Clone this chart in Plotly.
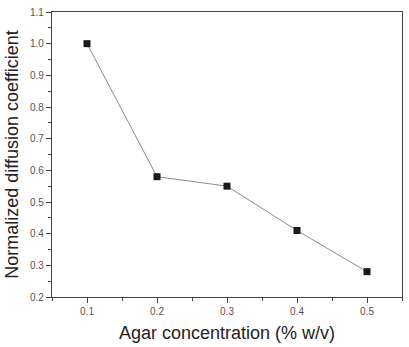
import plotly.graph_objects as go

agar_conc = [0.1, 0.2, 0.3, 0.4, 0.5]
norm_diffusion = [1.0, 0.58, 0.55, 0.41, 0.28]

x_ticks = [0.1, 0.2, 0.3, 0.4, 0.5]
y_ticks = [0.2, 0.3, 0.4, 0.5, 0.6, 0.7, 0.8, 0.9, 1.0, 1.1]

fig = go.Figure()
fig.add_trace(go.Scatter(
    x=agar_conc, y=norm_diffusion, mode="lines+markers",
    line=dict(color="#8a8a8a", width=1),
    marker=dict(symbol="square", size=7, color="#1a1a1a"),
    showlegend=False,
))

axis_common = dict(
    showline=True, linecolor="#444", linewidth=1.3, mirror=True,
    showgrid=False, zeroline=False,
    ticks="outside", ticklen=5, tickcolor="#444", tickwidth=1,
    tickfont=dict(family="Liberation Sans, Arial", size=10, color="#555"),
    minor=dict(ticks="outside", ticklen=3, tickcolor="#444"),
)

title_font = dict(family="Liberation Sans, Arial", size=18, color="#222")

fig.update_xaxes(
    range=[0.05, 0.55], tickvals=x_ticks, ticktext=[f"{v:.1f}" for v in x_ticks],
    minor_dtick=0.05, minor_tick0=0.05,
    title=dict(text="Agar concentration (% w/v)", standoff=10, font=title_font),
    **axis_common,
)
fig.update_yaxes(
    range=[0.2, 1.1], tickvals=y_ticks, ticktext=[f"{v:.1f}" for v in y_ticks],
    minor_dtick=0.05, minor_tick0=0.05,
    title=dict(text="Normalized diffusion coefficient", standoff=6, font=title_font),
    **axis_common,
)

fig.update_layout(
    width=409, height=347,
    margin=dict(l=52, r=7, t=12, b=50),
    paper_bgcolor="white", plot_bgcolor="white",
)

fig.write_html("out.html")
